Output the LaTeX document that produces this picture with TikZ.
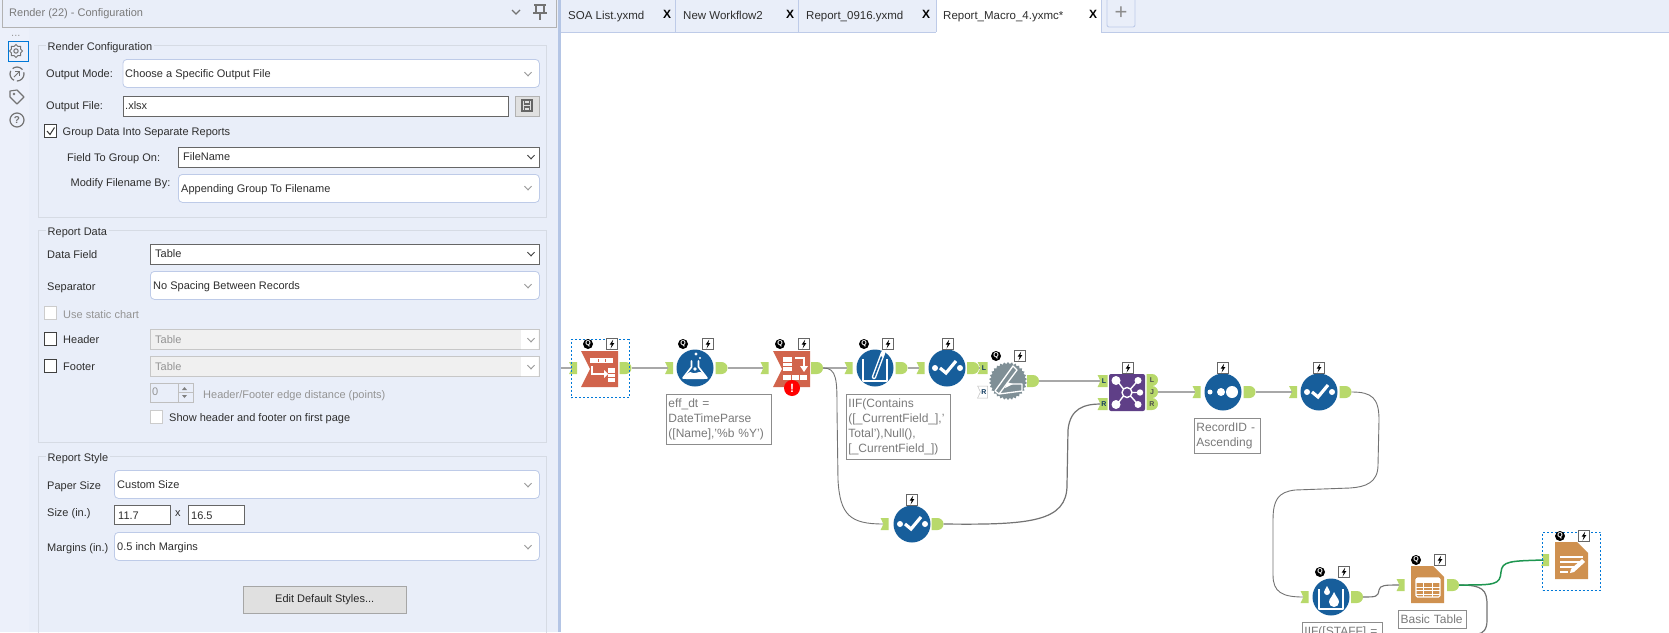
\documentclass[tikz,border=0pt]{standalone}
\usepackage{fontspec}
\setmainfont{Liberation Sans}
\usepackage{xcolor}
\usepackage{tikz}
\usetikzlibrary{arrows.meta, shapes.geometric, shapes.misc, shapes.symbols}
\definecolor{PanelBlue}{RGB}{233,238,249}
\definecolor{EdgeBlue}{RGB}{190,203,232}
\definecolor{SplitBlue}{RGB}{180,197,229}
\definecolor{FrameGrey}{RGB}{214,219,228}
\definecolor{ToolBlue}{RGB}{23,94,155}
\definecolor{ToolRed}{RGB}{209,100,76}
\definecolor{ToolTan}{RGB}{207,145,80}
\definecolor{ToolPurple}{RGB}{95,63,135}
\definecolor{ToolGrey}{RGB}{127,143,150}
\definecolor{PortGreen}{RGB}{184,217,107}
\definecolor{WireGrey}{RGB}{168,168,168}
\definecolor{WireDark}{RGB}{115,115,115}
\definecolor{WireGreen}{RGB}{30,150,80}
\definecolor{SelectBlue}{RGB}{0,120,215}
\tikzset{
	lbl/.style={anchor=west, inner sep=0, text height=8, text depth=0, text=black!82, font=\fontsize{11}{13}\selectfont},
	dimlbl/.style={lbl, text=black!42},
	tablbl/.style={lbl, font=\fontsize{11.5}{13}\selectfont},
	frame/.style={draw=FrameGrey, line width=.9, anchor=north west, inner sep=0},
	frametitle/.style={lbl, fill=PanelBlue, inner sep=1.5},
	combo/.style={draw=EdgeBlue, fill=white, rounded corners=4, line width=.8, anchor=north west, inner sep=0},
	fieldbox/.style={draw=black!60, fill=white, line width=.9, anchor=north west, inner sep=0},
	offbox/.style={draw=black!22, fill=black!6, line width=.9, anchor=north west, inner sep=0},
	tick/.style={draw=black!75, fill=white, line width=.9, minimum size=12.5, inner sep=0},
	offtick/.style={tick, draw=black!20},
	inport/.style={signal, signal from=west, signal to=nowhere, signal pointer angle=130, fill=PortGreen, minimum width=8, minimum height=12, inner sep=0, font=\fontsize{7}{7}\bfseries\selectfont, text=ToolBlue!60!black},
	outport/.style={rounded rectangle, rounded rectangle west arc=none, fill=PortGreen, minimum width=8, minimum height=12, inner sep=0, font=\fontsize{7}{7}\bfseries\selectfont, text=black!70},
	wire/.style={WireGrey, line width=1.6},
	curve/.style={WireDark, line width=.9},
	toolcircle/.style={circle, fill=ToolBlue, minimum size=37, inner sep=0},
	qbadge/.style={circle, fill=black, text=white, minimum size=10, inner sep=0, font=\fontsize{7}{7}\bfseries\selectfont},
	boltbox/.style={draw=black!60, fill=white, line width=.7, minimum size=11, inner sep=0, path picture={\fill[black, shift={(path picture bounding box.center)}] (1.2,-4.5) -- (-2.4,.7) -- (-.3,.7) -- (-1.4,4.5) -- (2.4,-1) -- (.3,-1) -- cycle;}},
	note/.style={draw=black!45, fill=white, line width=.9, text=black!52, anchor=north west, align=left, inner xsep=2, inner ysep=4.5, font=\fontsize{12}{15}\selectfont},
	selbox/.style={draw=SelectBlue, line width=.8, dash pattern=on 2pt off 2pt, minimum size=58, inner sep=0},
	glyph/.style={white, line width=2, line cap=round, line join=round},
	checkmark/.pic={
		\fill[white] (-12,0) circle (3) (13,0) circle (3);
		\draw[glyph, line width=3.2, line cap=butt, line join=miter] (-7,0) -- (-1,5) -- (9,-7);
	},
	flask/.pic={
		\draw[glyph, line width=1.6] (-3.5,-7) -- (-3.5,-1) -- (-12,10) -- (12,10) -- (3.5,-1) -- (3.5,-7);
		\fill[white] (-11,8) -- (-5,4) .. controls (0,7) and (4,3) .. (6,4) -- (11,8) -- (9,11) -- (-9,11) -- cycle;
		\fill[white] (1,-14) circle (1.6) (5,-10) circle (1.1) (0,1) circle (1.8);
	},
	beaker/.pic={
		\draw[glyph, line width=2, line cap=butt] (-12,-9) -- (-12,13) -- (12,13) -- (12,-9);
		\draw[white, line width=4.4, line cap=round] (8,-15) -- (-1,9);
		\draw[ToolBlue, line width=1.6, line cap=round] (6.5,-11) -- (-1,9);
	},
	sorter/.pic={
		\fill[white] (-13,0) circle (2.5) (-2,0) circle (4) (9,0) circle (6);
	},
	bucket/.pic={
		\draw[glyph, line width=2, line cap=butt] (-12,-8) -- (-12,12) -- (12,12) -- (12,-8);
		\fill[white] (3,-5) .. controls (5,0) and (8,2) .. (8,5) arc (0:180:5) .. controls (-2,2) and (1,0) .. (3,-5);
		\fill[white] (-4,-11) .. controls (-3,-8) and (-1,-7) .. (-1,-5) arc (0:180:3) .. controls (-7,-7) and (-5,-8) .. (-4,-11);
	},
	redchevron/.pic={
		\fill[ToolRed] (-19,-18) -- (18,-18) -- (18,18) -- (-19,18) -- (-10,0) -- cycle;
	},
	splitcols/.pic={
		\fill[white] (-10,-11) rectangle (13,-6);
		\draw[ToolRed, line width=.8] (-2,-10) -- (-2,-7) (5,-10) -- (5,-7);
		\draw[white, line width=1.6] (-8,-3) -- (-8,5) -- (6,5);
		\fill[white] (4,1) -- (8,5) -- (4,9) -- cycle;
		\fill[white] (8,-1) rectangle (15,13);
		\draw[ToolRed, line width=.8] (8,4) -- (15,4) (8,8.5) -- (15,8.5);
	},
	joinrows/.pic={
		\fill[white] (-9,-12) rectangle (0,2);
		\draw[ToolRed, line width=.8] (-9,-7) -- (0,-7) (-9,-2.5) -- (0,-2.5);
		\draw[white, line width=1.6] (3,-11) -- (12,-11) -- (12,-1);
		\fill[white] (8,-3) -- (16,-3) -- (12,3) -- cycle;
		\fill[white] (-9,6) rectangle (15,11);
		\draw[ToolRed, line width=.8] (-1,6) -- (-1,11) (7,6) -- (7,11);
	},
	joiner/.pic={
		\draw[white, line width=1.4] (0,0) circle (5) (-10,-12) -- (-4,-4) (-10,12) -- (-4,4) (11,-12) -- (4,-4) (11,12) -- (4,4) (5,0) -- (13,0);
		\fill[white] (-11,-12) circle (4.5) (-11,12) circle (4.5) (11,-12) circle (3.5) (11,12) circle (3.5) (13,0) circle (3.2);
	},
	penciled/.pic={
		\draw[white, line width=1.3, line join=round] (-13,10) -- (5,-15) -- (9,-11) -- (-9,13) -- cycle (-2,3) -- (14,3) -- (14,10) -- (-9,13);
		\fill[white] (-1,1) -- (5,3) -- (-3,7) -- cycle;
	},
	basictable/.pic={
		\fill[ToolTan] (-16,-19) -- (6,-19) -- (17,-8) -- (17,18) -- (-16,18) -- cycle;
		\draw[white, line width=1.1, rounded corners=1.5] (-11,-7) rectangle (13,12);
		\fill[white] (-11,-7) rectangle (13,-2);
		\draw[white, line width=.9] (-11,2) -- (13,2) (-11,5.5) -- (13,5.5) (-11,9) -- (13,9) (-4,-2) -- (-4,12) (5,-2) -- (5,12);
	},
	layoutdoc/.pic={
		\fill[ToolTan] (-16,-19) -- (6,-19) -- (17,-8) -- (17,18) -- (-16,18) -- cycle;
		\draw[white, line width=1.7] (-11,-4) -- (12,-4) (-11,1) -- (9,1) (-11,6) -- (3,6) (-11,11) -- (-3,11);
		\fill[white] (-1,12) -- (0,8) -- (11,-2) -- (14,1) -- (3,11) -- cycle;
	},
	chevron/.pic={
		\draw[black!40, line width=1] (-3.5,-1.8) -- (0,1.8) -- (3.5,-1.8);
	},
	darkchevron/.pic={
		\draw[black!75, line width=1] (-3.5,-1.8) -- (0,1.8) -- (3.5,-1.8);
	},
}

\begin{document}
\begin{tikzpicture}[x=1pt, y=-1pt]
	\clip (0,0) rectangle (1669,632);
	\fill[white] (0,0) rectangle (1669,632);

	% left panel and tab strip
	\fill[PanelBlue] (0,0) rectangle (558,632);
	\fill[PanelBlue!85!white] (0,28) rectangle (29,632);
	\fill[SplitBlue] (558,0) rectangle (561,632);
	\fill[PanelBlue] (561,0) rectangle (1669,32);
	\draw[EdgeBlue, line width=.9] (561,32.5) -- (1669,32.5);
	\draw[black!30, line width=.9] (2,-2) rectangle (556,27);
	\node[lbl, text=black!52] (paneltitle) at (9,12) {Render (22) - Configuration};
	\draw[black!55, line width=1.1] (512,10) -- (516,14) -- (520,10);
	\draw[black!55, line width=1.2] (534,5) -- (546,5) (536,5) -- (536,12) (544,5) -- (544,12) (533,13) -- (547,13) (540,13) -- (540,20);

	% tabs
	\fill[white] (936,0) rectangle (1101,33);
	\draw[EdgeBlue, line width=.9] (675.5,0) -- (675.5,32) (798.5,0) -- (798.5,32) (936,0) -- (936,32) (1101,0) -- (1101,32);
	\draw[EdgeBlue, line width=.9, rounded corners=2] (1107,-2) rectangle (1135,27);
	\foreach \nm/\xx/\xc/\txt in {soa/568/667/SOA List.yxmd, workflow/683/790/New Workflow2, report/806/926/Report\_0916.yxmd, macro/943/1093/Report\_Macro\_4.yxmc*} {
		\node[tablbl] (tab\nm) at (\xx,15) {\txt};
		\node[lbl, anchor=center, font=\fontsize{12}{12}\bfseries\selectfont, text=black] (close\nm) at (\xc,14) {X};
	}
	\node[anchor=center, inner sep=0, text=black!45, font=\fontsize{22}{22}\selectfont] (addtab) at (1121,13) {+};

	% side icons
	\node[draw=SelectBlue, line width=.9, minimum width=20, minimum height=20, anchor=north west, inner sep=0] (gearsel) at (7.5,41) {};
	\node[lbl, text=black!40] (dots) at (11,32) {...};
	\node[star, star points=8, star point ratio=1.3, draw=black!55, line width=.9, minimum size=13, inner sep=0] (geartab) at (16,51) {};
	\draw[black!55, line width=1] (16,51) circle (2.2);
	\draw[black!55, line width=1.2, dash pattern=on 11pt off 3pt] (17,74) circle (7);
	\draw[black!55, line width=1, -{Straight Barb[length=3pt]}] (14,77) -- (20,71);
	\draw[black!55, line width=1.1, line join=round] (10,91) -- (17,90) -- (24,97) -- (17,104) -- (10,97) -- cycle;
	\fill[black!55] (14,94) circle (1.3);
	\node[circle, draw=black!55, line width=1.2, minimum size=14, inner sep=0, text=black!55, font=\fontsize{10}{10}\bfseries\selectfont] (helptab) at (17,120) {?};

	% frames
	\node[frame, minimum width=508, minimum height=172] (renderframe) at (38,45) {};
	\node[frame, minimum width=508, minimum height=212] (dataframe) at (38,230) {};
	\node[frame, minimum width=508, minimum height=200] (styleframe) at (38,456) {};
	\node[frametitle] (rendertitle) at (46,46) {Render Configuration};
	\node[frametitle] (datatitle) at (46,231) {Report Data};
	\node[frametitle] (styletitle) at (46,457) {Report Style};

	% fields
	\node[combo, minimum width=416.5, minimum height=28] (modebox) at (122.5,59) {};
	\node[fieldbox, minimum width=385.5, minimum height=20] (filebox) at (122.5,96) {};
	\node[draw=black!30, fill=black!12, minimum width=24, minimum height=20, anchor=north west, inner sep=0] (savebtn) at (515,96) {};
	\draw[black!60, line width=1.3] (522,100) rectangle (532,111) (524.5,100) -- (524.5,104) -- (529.5,104) -- (529.5,100) (524.5,111) -- (524.5,107) -- (529.5,107) -- (529.5,111);
	\node[fieldbox, minimum width=361, minimum height=20] (groupbox) at (178,147) {};
	\node[combo, minimum width=361, minimum height=28] (filenamebox) at (178,174) {};
	\node[fieldbox, minimum width=389, minimum height=20] (databox) at (150,244) {};
	\node[combo, minimum width=389, minimum height=28] (sepbox) at (150,271) {};
	\node[offbox, minimum width=389, minimum height=20] (headerbox) at (150,329) {};
	\node[offbox, minimum width=389, minimum height=20] (footerbox) at (150,356) {};
	\fill[white] (521,330) rectangle (538.5,349) (521,357) rectangle (538.5,376);
	\node[draw=black!25, line width=.9, minimum width=43, minimum height=19, anchor=north west, inner sep=0] (spinbox) at (150,383) {};
	\draw[black!25, line width=.8] (178,384) -- (178,402) (178,392.5) -- (193,392.5);
	\fill[black!50] (182,390) -- (187,390) -- (184.5,387) -- cycle (182,395) -- (187,395) -- (184.5,398) -- cycle;
	\node[combo, minimum width=425, minimum height=28] (paperbox) at (114,470) {};
	\node[fieldbox, minimum width=55.5, minimum height=19] (widthbox) at (114,505) {};
	\node[fieldbox, minimum width=55.5, minimum height=19] (heightbox) at (188,505) {};
	\node[combo, minimum width=425, minimum height=28] (marginbox) at (114,532) {};
	\node[draw=black!35, fill=black!12, line width=.9, minimum width=162.5, minimum height=27, anchor=north west, inner sep=0, font=\fontsize{11}{13}\selectfont, text=black!85] (stylesbtn) at (243,586) {Edit Default Styles...};

	\foreach \nm/\xx/\yy/\txt in {
		modelbl/46/73/Output Mode:, filelbl/46/105/Output File:, grouplbl/62.5/131/Group Data Into Separate Reports,
		fieldlbl/67/157/Field To Group On:, modifylbl/70.5/182/Modify Filename By:, datalbl/47/254/Data Field,
		seplbl/47/286/Separator, headerlbl/63/339/Header, footerlbl/63/366/Footer,
		firstlbl/169/417/Show header and footer on first page,
		paperlbl/47/485/Paper Size, sizelbl/47/512/Size (in.), marginlbl/47/547/Margins (in.), xlbl/175/512/x,
		modeval/125/73/Choose a Specific Output File, fileval/125/105/.xlsx, groupval/183/156/FileName,
		filenameval/181/188/Appending Group To Filename, dataval/155/253/Table, sepval/153/285/No Spacing Between Records,
		paperval/117/484/Custom Size, widthval/118/515/11.7, heightval/191/515/16.5, marginval/117/546/0.5 inch Margins} {
		\node[lbl] (\nm) at (\xx,\yy) {\txt};
	}
	\foreach \nm/\xx/\yy/\txt in {
		staticlbl/63/314/Use static chart, headerval/155/339/Table, footerval/155/366/Table, spinval/152/391/0,
		edgelbl/203/394/{Header/Footer edge distance (points)}} {
		\node[dimlbl] (\nm) at (\xx,\yy) {\txt};
	}
	\foreach \xx/\yy in {528/74, 528/188, 528/286, 528/485, 528/547, 531/340, 531/367}
		\pic at (\xx,\yy) {chevron};
	\foreach \xx/\yy in {531/157, 531/254}
		\pic at (\xx,\yy) {darkchevron};

	% tick boxes
	\node[tick] (groupcheck) at (50.5,131) {};
	\draw[black!80, line width=1] (47,131) -- (50,134.5) -- (54.5,127.5);
	\node[offtick] (staticcheck) at (50.5,313) {};
	\node[tick] (headercheck) at (50.5,339) {};
	\node[tick] (footercheck) at (50.5,366) {};
	\node[offtick] (firstcheck) at (156.5,417) {};

	% ports
	\node[inport] (inA) at (574.5,368) {};
	\node[outport] (outA) at (625.5,368) {};
	\node[inport] (inB) at (670.5,368) {};
	\node[outport] (outB) at (721.5,368) {};
	\node[inport] (inC) at (766,368) {};
	\node[outport] (outC) at (817,368) {};
	\node[inport] (inD) at (850,368) {};
	\node[outport] (outD) at (901.5,368) {};
	\node[inport] (inE) at (922,368) {};
	\node[outport] (outE) at (973,368) {};
	\node[inport] (inF) at (886,524) {};
	\node[outport] (outF) at (937.5,524) {};
	\node[inport, minimum width=10] (inGL) at (984,368) {L};
	\node[inport, minimum width=10, fill=white, draw=black!25, line width=.5] (inGR) at (984,392) {R};
	\node[outport] (outG) at (1033,381) {};
	\node[inport, minimum width=10] (inHL) at (1104,381) {L};
	\node[inport, minimum width=10] (inHR) at (1104,404) {R};
	\node[outport, minimum width=10] (outHL) at (1152,380) {L};
	\node[outport, minimum width=10] (outHJ) at (1152,392) {J};
	\node[outport, minimum width=10] (outHR) at (1152,404) {R};
	\node[inport] (inI) at (1198,392) {};
	\node[outport] (outI) at (1249.5,392) {};
	\node[inport] (inJ) at (1294.5,392) {};
	\node[outport] (outJ) at (1345.5,392) {};
	\node[inport] (inK) at (1306,597) {};
	\node[outport] (outK) at (1357,597) {};
	\node[inport] (inL) at (1402,585) {};
	\node[outport] (outL) at (1453,585) {};
	\node[inport] (inM) at (1546.5,560) {};
	\coordinate (canvasedge) at (561,368);
	\coordinate (offpage) at (1478,634);

	% connections
	\draw[wire] (canvasedge) -- (inA.west);
	\draw[wire] (outA.east) -- (inB.west);
	\draw[wire] (outB.east) -- (inC.west);
	\draw[wire] (outC.east) -- (inD.west);
	\draw[wire] (outD.east) -- (inE.west);
	\draw[wire] (outE.east) -- (inGL.west);
	\draw[wire] (outG.east) -- (inHL.west);
	\draw[wire] (outHJ.east) -- (inI.west);
	\draw[wire] (outI.east) -- (inJ.west);
	\draw[curve] (outC.east) .. controls (837,368) and (837,380) .. (837,410) -- (838,480) .. controls (840,515) and (850,524) .. (inF.west);
	\draw[curve, line width=1.2] (outF.east) .. controls (1030,525) and (1067,522) .. (1067,485) -- (1068,430) .. controls (1070,408) and (1085,404) .. (inHR.west);
	\draw[curve] (outJ.east) .. controls (1372,392) and (1379,398) .. (1379,420) -- (1378,465) .. controls (1378,483) and (1365,487) .. (1350,488) -- (1295,490) .. controls (1278,492) and (1273,500) .. (1273,520) -- (1273,575) .. controls (1273,592) and (1282,597) .. (inK.west);
	\draw[wire, WireDark, line width=1.1] (outK.east) .. controls (1376,597) and (1378,597) .. (1379,590) .. controls (1380,585) and (1385,585) .. (inL.west);
	\draw[curve, line width=1.2] (outL.east) .. controls (1483,585) and (1487,590) .. (1487,605) -- (1487,620) .. controls (1487,630) and (1483,633) .. (offpage);
	\draw[WireGreen, line width=1.5] (outL.east) .. controls (1495,585) and (1500,585) .. (1501,572) .. controls (1502,561) and (1510,561) .. (inM.west);

	% tools
	\node[selbox] (selA) at (600,368.5) {};
	\pic at (600,369) {redchevron};
	\pic at (600,369) {splitcols};
	\node[toolcircle] (flasktool) at (695,368) {};
	\pic at (695,368) {flask};
	\pic at (792,369) {redchevron};
	\pic at (792,369) {joinrows};
	\node[circle, fill=red, text=white, minimum size=16, inner sep=0, font=\fontsize{12}{12}\bfseries\selectfont] (errbadge) at (792,388) {!};
	\node[toolcircle] (beakertool) at (875,368) {};
	\pic at (875,368) {beaker};
	\node[toolcircle] (checkE) at (947,368) {};
	\pic at (947,368) {checkmark};
	\node[toolcircle] (checkF) at (912,524) {};
	\pic at (912,524) {checkmark};
	\node[star, star points=30, star point ratio=1.12, fill=ToolGrey, minimum size=38, inner sep=0] (geartool) at (1008,381) {};
	\pic at (1008,381) {penciled};
	\node[rounded corners=2, fill=ToolPurple, minimum width=36, minimum height=37, inner sep=0] (jointool) at (1127,392.5) {};
	\pic at (1127,392.5) {joiner};
	\node[toolcircle] (sorttool) at (1223,392) {};
	\pic at (1223,392) {sorter};
	\node[toolcircle] (checkJ) at (1319,392) {};
	\pic at (1319,392) {checkmark};
	\node[toolcircle] (buckettool) at (1331,597) {};
	\pic at (1331,597) {bucket};
	\pic at (1427,585) {basictable};
	\node[selbox] (selM) at (1571.5,561) {};
	\pic at (1571,561) {layoutdoc};

	% badges
	\foreach \nm/\xx/\yy in {A/588/344, B/683/344, C/780/344, D/864/344, G/996/356, K/1320/572, L/1416/560, M/1560/536}
		\node[qbadge] (q\nm) at (\xx,\yy) {Q};
	\foreach \nm/\xx/\yy in {A/612/344, B/708/344, C/804/344, D/888/344, E/948/344, F/912/500, G/1020/356, H/1128/368, I/1223/368, J/1319/368, K/1344/572, L/1440/560, M/1584/536}
		\node[boltbox] (bolt\nm) at (\xx,\yy) {};

	% annotations
	\node[note, text width=101] (noteB) at (666,394) {eff\_dt =\\DateTimeParse\\([Name],'\%b \%Y')};
	\node[note, text width=100] (noteD) at (846,394) {IIF(Contains\\([\_CurrentField\_],'\\Total'),Null(),\\{[\_CurrentField\_])}};
	\node[note, text width=62] (noteI) at (1194,418) {RecordID -\\Ascending};
	\node[note, text width=64, line width=1.2] (noteL) at (1398,610) {Basic Table};
	\node[note, text width=76] (noteK) at (1302,622) {IIF([STAFF] =};
\end{tikzpicture}
\end{document}
